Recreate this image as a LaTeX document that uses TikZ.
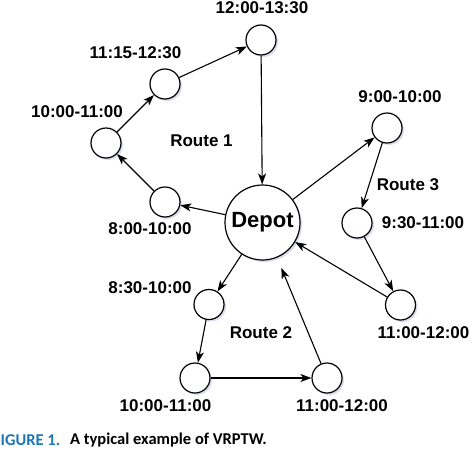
\documentclass[tikz,border=0pt]{standalone}
\usepackage{fontspec}
\setmainfont{Liberation Sans}
\newfontfamily\capfont{Carlito}
\usetikzlibrary{arrows.meta,shadows}
\definecolor{capblue}{RGB}{28,118,178}
\definecolor{shadowcol}{RGB}{150,160,200}
\begin{document}
\begin{tikzpicture}[x=1pt,y=-1pt,
  every node/.style={inner sep=0pt},
  stop/.style={circle,draw,line width=1.2pt,fill=white,minimum size=30pt,
    drop shadow={shadow xshift=2pt,shadow yshift=-2pt,opacity=0.35,fill=shadowcol}},
  depotnode/.style={stop,minimum size=75pt,font=\fontsize{22}{24}\selectfont\bfseries},
  lbl/.style={font=\fontsize{17}{19}\selectfont\bfseries},
  conn/.style={line width=1.1pt,-{Stealth[length=11pt,width=8pt,inset=3pt]}},
  capt/.style={font=\capfont\fontsize{16.5}{18}\selectfont\bfseries,anchor=west}]
\useasboundingbox (0,0) rectangle (474,450);
% nodes
\node[depotnode] (depot) at (262.5,222.5) {Depot};
\node[stop] (a1) at (165,202) {};
\node[stop] (a2) at (106,143) {};
\node[stop] (a3) at (165,84) {};
\node[stop] (a4) at (261,40) {};
\node[stop] (c1) at (387,128) {};
\node[stop] (c2) at (357,223) {};
\node[stop] (c3) at (400.5,305) {};
\node[stop] (b1) at (209,304.5) {};
\node[stop] (b2) at (195,378) {};
\node[stop] (b3) at (327,378) {};
% labels
\node[lbl] (l4) at (262,8) {12:00-13:30};
\node[lbl] (l3) at (135.5,53) {11:15-12:30};
\node[lbl] (l2) at (77,112) {10:00-11:00};
\node[lbl] (r1) at (201.5,141) {Route 1};
\node[lbl] (l1) at (150,229) {8:00-10:00};
\node[lbl] (k1) at (400,97) {9:00-10:00};
\node[lbl] (r3) at (408,185) {Route 3};
\node[lbl] (k2) at (423,222.5) {9:30-11:00};
\node[lbl] (k3) at (423.5,332.5) {11:00-12:00};
\node[lbl] (r2) at (261,332.5) {Route 2};
\node[lbl] (m1) at (150,288) {8:30-10:00};
\node[lbl] (m2) at (165.5,405.5) {10:00-11:00};
\node[lbl] (m3) at (342,406) {11:00-12:00};
% connectors
\draw[conn] (depot) -- (a1);
\draw[conn] (a1) -- (a2);
\draw[conn] (a2) -- (a3);
\draw[conn] (a3) -- (a4);
\draw[conn] (a4) -- (depot);
\draw[conn] (depot) -- (c1);
\draw[conn] (c1) -- (c2);
\draw[conn] (c2) -- (c3);
\draw[conn] (c3) -- (depot);
\draw[conn] (depot) -- (b1);
\draw[conn] (b1) -- (b2);
\draw[conn] (b2) -- (b3);
\draw[conn,shorten >=11pt] (b3) -- (depot);
% caption
\node[capt,text=capblue] (cap1) at (0.5,440) {IGURE 1.};
\node[capt] (cap2) at (70,440) {A typical example of VRPTW.};
\end{tikzpicture}
\end{document}
